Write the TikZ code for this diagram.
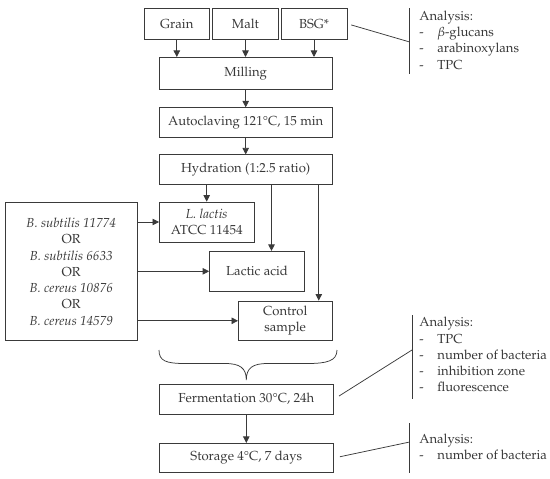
\documentclass[tikz,border=0pt]{standalone}
\usepackage[T1]{fontenc}
\usepackage{mathpazo}
\usepackage{xcolor}
\definecolor{drawcolor}{HTML}{3A3A3A}
\definecolor{textcolor}{HTML}{383838}
\usepackage{tikz}
\usetikzlibrary{arrows.meta}

\begin{document}
\begin{tikzpicture}[
  x=1pt, y=-1pt,
  line width=0.75pt,
  drawcolor,
  font=\fontsize{13.1}{16.3}\selectfont,
  box/.style={draw=drawcolor, text=textcolor, anchor=center, inner sep=0pt, align=center},
  arrow/.style={-{Triangle[length=6.5pt, width=6.5pt]}},
  analysis/.style={anchor=north west, inner sep=0pt, text=textcolor, align=left},
  bar/.style={line width=0.9pt},
]
  \useasboundingbox (0,0) rectangle (550,479);

  % raw materials
  \node[box, minimum width=65.5pt, minimum height=31pt] (grain) at (176.8, 23.8) {Grain};
  \node[box, minimum width=66pt, minimum height=31pt] (malt) at (245.5, 23.8) {Malt};
  \node[box, minimum width=66pt, minimum height=31pt] (bsg) at (314, 23.8) {BSG*};

  \node[box, minimum width=172.6pt, minimum height=31.7pt] (milling) at (245.7, 73.2) {Milling};
  \node[box, minimum width=172.6pt, minimum height=29.6pt] (autoclave) at (245.7, 122.5) {Autoclaving 121\textdegree C, 15 min};
  \node[box, minimum width=172.6pt, minimum height=29.3pt] (hydration) at (245.7, 169.4) {Hydration (1:2.5 ratio)};

  % cultures and acid
  \node[box, minimum width=94.6pt, minimum height=40pt] (lactis) at (206.7, 222) {\textit{L. lactis}\\ATCC 11454};
  \node[box, minimum width=95.2pt, minimum height=40pt] (lactic) at (257.1, 271.3) {Lactic acid};
  \node[box, minimum width=93.6pt, minimum height=39.7pt] (control) at (285.2, 320.8) {Control\\sample};
  \node[box, minimum width=131.7pt, minimum height=138pt] (strains) at (71.2, 271.7)
    {\textit{B. subtilis 11774}\\OR\\\textit{B. subtilis 6633}\\OR\\\textit{B. cereus 10876}\\OR\\\textit{B. cereus 14579}};

  \node[box, minimum width=174.6pt, minimum height=29.7pt] (ferment) at (246.3, 399.2) {Fermentation 30\textdegree C, 24h};
  \node[box, minimum width=174.6pt, minimum height=29.4pt] (storage) at (246.3, 458) {Storage 4\textdegree C, 7 days};

  \foreach \n in {grain, malt, bsg}
    \draw[arrow] (\n.south) -- (\n.south |- milling.north);
  \draw[arrow] (milling) -- (autoclave);
  \draw[arrow] (autoclave) -- (hydration);
  \draw[arrow] (lactis.north |- hydration.south) -- (lactis);
  \draw[arrow] ([xshift=14.4pt]lactic.north |- hydration.south) -- ([xshift=14.4pt]lactic.north);
  \draw[arrow] ([xshift=-13.6pt]control.north east |- hydration.south) -- ([xshift=-13.6pt]control.north east);
  \foreach \n in {lactis, lactic, control}
    \draw[arrow] (strains.east |- \n) -- (\n);
  \draw[arrow] (ferment) -- (storage);

  % brace
  \coordinate (tip) at (246.3, 380);
  \draw (159, 350) .. controls (159, 361) and (166, 363.5) .. (185, 363.5) -- (225, 363.5)
    .. controls (240, 363.5) and (246.3, 368) .. (tip)
    .. controls (246.3, 368) and (252.6, 363.5) .. (267.6, 363.5) -- (307.6, 363.5)
    .. controls (326.6, 363.5) and (337, 361) .. (337, 350);

  % analyses
  \coordinate (a1) at (409.7, 42);
  \coordinate (a2) at (412, 350);
  \coordinate (a3) at (409.7, 442);
  \draw[bar] (409.7, 8.3) -- (409.7, 74);
  \draw[bar] (412, 315) -- (412, 399.3);
  \draw[bar] (409.7, 423.3) -- (409.7, 472.7);
  \draw[shorten <=4pt] (bsg.east) -- (a1);
  \draw[shorten <=6pt] (ferment.east) -- (a2);
  \draw[shorten <=6pt] (storage.east) -- (a3);

  \node[analysis] (an1) at (419, 8.5) {\begin{tabular}{@{}p{18pt}@{}l}
    \multicolumn{2}{@{}l}{Analysis:}\\
    - & $\beta$-glucans\\
    - & arabinoxylans\\
    - & TPC
  \end{tabular}};
  \node[analysis] (an2) at (419, 315) {\begin{tabular}{@{}p{18pt}@{}l}
    \multicolumn{2}{@{}l}{Analysis:}\\
    - & TPC\\
    - & number of bacteria\\
    - & inhibition zone\\
    - & fluorescence
  \end{tabular}};
  \node[analysis] (an3) at (419, 431.5) {\begin{tabular}{@{}p{18pt}@{}l}
    \multicolumn{2}{@{}l}{Analysis:}\\
    - & number of bacteria
  \end{tabular}};
\end{tikzpicture}
\end{document}
